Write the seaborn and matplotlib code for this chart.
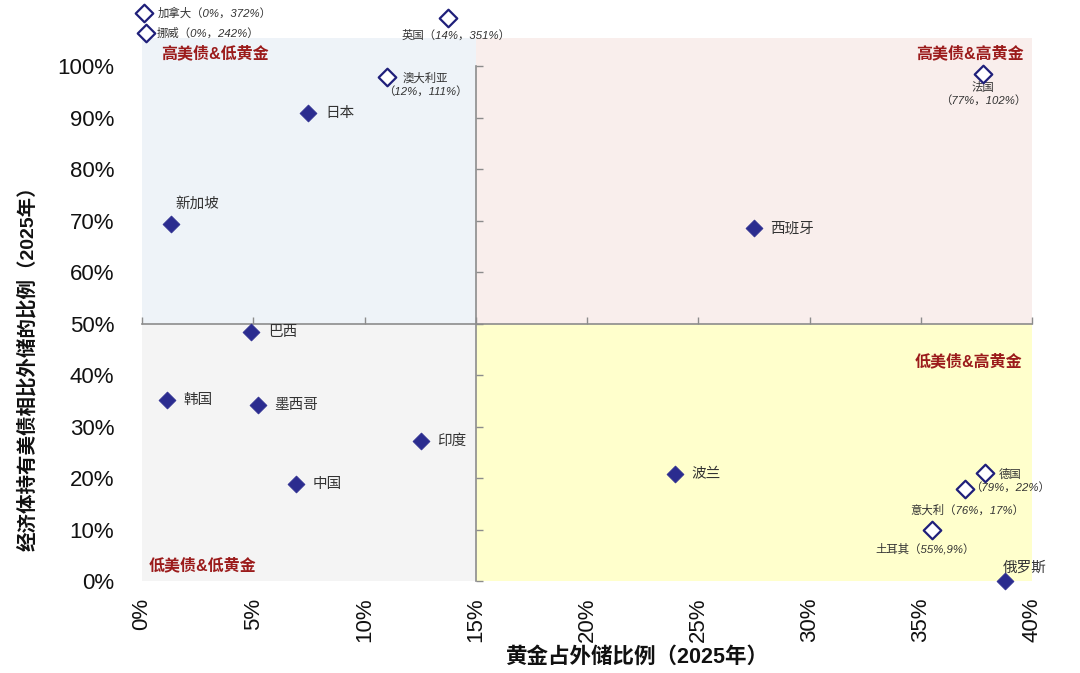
import matplotlib
matplotlib.use("Agg")
import matplotlib.pyplot as plt
import seaborn as sns
import pandas as pd

# 实心点：正常范围内的经济体
filled_names = ['日本', '新加坡', '西班牙', '巴西', '韩国', '墨西哥', '印度', '中国', '波兰', '俄罗斯']
filled_gold = [7.46, 1.30, 27.5, 4.9, 1.12, 5.21, 12.54, 6.9, 23.96, 38.8]
filled_ust = [90.9, 69.3, 68.5, 48.3, 35.1, 34.2, 27.2, 18.8, 20.8, 0.0]

# 空心点：超出坐标范围，标注真实数值
hollow_labels = ['加拿大（0%，372%）', '挪威（0%，242%）', '英国（14%，351%）',
                 '澳大利亚\n（12%，111%）', '法国\n（77%，102%）', '德国\n（79%，22%）',
                 '意大利（76%，17%）', '土耳其（55%,9%）']
hollow_gold = [0.1, 0.2, 13.75, 11.0, 37.8, 37.9, 37.0, 35.5]
hollow_ust = [110.3, 106.4, 109.3, 97.9, 98.6, 21.0, 17.9, 9.9]

x_ticks = [0, 5, 10, 15, 20, 25, 30, 35, 40]
y_ticks = [0, 10, 20, 30, 40, 50, 60, 70, 80, 90, 100]

quadrant_names = ['高美债&低黄金', '高美债&高黄金', '低美债&高黄金', '低美债&低黄金']

# 标签偏移（像素）
filled_offsets = [(17, 0, 'left'), (5, 21, 'left'), (16, 0, 'left'), (17, 0, 'left'),
                  (17, 0, 'left'), (16, 0, 'left'), (16, 0, 'left'), (17, 0, 'left'),
                  (16, 0, 'left'), (-3, 13, 'left')]
hollow_offsets = [(13, 0, 'left'), (10, 0, 'left'), (8, -17, 'center'),
                  (39, -8, 'center'), (0, -21, 'center'), (25, -8, 'center'),
                  (2, -21, 'center'), (-7, -19, 'center')]

X_SPLIT, Y_SPLIT = 15, 50
X_MAX, Y_MAX = 40, 105.5

sns.set_style('white')
plt.rcParams['font.family'] = ['Liberation Sans', 'Noto Sans CJK SC', 'DejaVu Sans']

fig = plt.figure(figsize=(10.8, 6.73), dpi=100)
ax = fig.add_axes([0.1315, 0.1367, 0.8241, 0.8068])
ax.set_xlim(0, X_MAX)
ax.set_ylim(0, Y_MAX)

# 四象限背景
ax.fill_between([0, X_SPLIT], Y_SPLIT, Y_MAX, color='#eef3f8', lw=0, zorder=0)
ax.fill_between([X_SPLIT, X_MAX], Y_SPLIT, Y_MAX, color='#f9eeec', lw=0, zorder=0)
ax.fill_between([0, X_SPLIT], 0, Y_SPLIT, color='#f4f4f4', lw=0, zorder=0)
ax.fill_between([X_SPLIT, X_MAX], 0, Y_SPLIT, color='#ffffcc', lw=0, zorder=0)

for s in ax.spines.values():
    s.set_visible(False)

ax.set_xticks(x_ticks)
ax.set_xticklabels([f'{v}%' for v in x_ticks], rotation=90)
ax.set_yticks(y_ticks)
ax.set_yticklabels([f'{v}%' for v in y_ticks])
ax.tick_params(axis='both', length=0, labelsize=16, colors='#111111')
ax.tick_params(axis='y', pad=20)
ax.tick_params(axis='x', pad=12)

# 十字中轴
sec_x = ax.secondary_xaxis(Y_SPLIT / Y_MAX)
sec_x.set_xticks(x_ticks)
sec_x.set_xticklabels([])
sec_x.tick_params(direction='in', length=5, color='#8c8c8c', width=1)
for s in sec_x.spines.values():
    s.set_color('#8c8c8c')
    s.set_linewidth(1.2)

sec_y = ax.secondary_yaxis(X_SPLIT / X_MAX)
sec_y.set_yticks(y_ticks)
sec_y.set_yticklabels([])
sec_y.tick_params(direction='in', length=5, color='#8c8c8c', width=1)
for s in sec_y.spines.values():
    s.set_color('#8c8c8c')
    s.set_linewidth(1.2)
sec_y.spines['left'].set_bounds(0, 100)

filled_df = pd.DataFrame({'name': filled_names, 'gold': filled_gold, 'ust': filled_ust})
hollow_df = pd.DataFrame({'name': hollow_labels, 'gold': hollow_gold, 'ust': hollow_ust})

sns.scatterplot(data=filled_df, x='gold', y='ust', marker='D', s=75, color='#2b2c8f',
                edgecolor='#2b2c8f', linewidth=0.5, ax=ax, clip_on=False, zorder=4)
sns.scatterplot(data=hollow_df, x='gold', y='ust', marker='D', s=80, color='white',
                edgecolor='#1f1f7a', linewidth=1.6, ax=ax, clip_on=False, zorder=4)

for (_, r), (dx, dy, ha) in zip(filled_df.iterrows(), filled_offsets):
    ax.annotate(r['name'], (r['gold'], r['ust']), xytext=(dx, dy), textcoords='offset pixels',
                ha=ha, va='center', fontsize=10.5, color='#333333', annotation_clip=False)

for (_, r), (dx, dy, ha) in zip(hollow_df.iterrows(), hollow_offsets):
    ax.annotate(r['name'], (r['gold'], r['ust']), xytext=(dx, dy), textcoords='offset pixels',
                ha=ha, va='center', multialignment='center', fontsize=8.2, style='italic',
                color='#333333', linespacing=1.3, annotation_clip=False)

# 象限标签
q_color = '#9b1b1b'
ax.text(0.021, 0.971, quadrant_names[0], transform=ax.transAxes, ha='left', va='center',
        fontsize=11.5, fontweight='bold', color=q_color)
ax.text(0.991, 0.971, quadrant_names[1], transform=ax.transAxes, ha='right', va='center',
        fontsize=11.5, fontweight='bold', color=q_color)
ax.text(0.989, 0.404, quadrant_names[2], transform=ax.transAxes, ha='right', va='center',
        fontsize=11.5, fontweight='bold', color=q_color)
ax.text(0.008, 0.029, quadrant_names[3], transform=ax.transAxes, ha='left', va='center',
        fontsize=11.5, fontweight='bold', color=q_color)

ax.set_xlabel('黄金占外储比例（2025年）', fontsize=15.5, fontweight='bold', color='#111111')
ax.set_ylabel('经济体持有美债相比外储的比例（2025年）', fontsize=14, fontweight='bold', color='#111111')
ax.xaxis.set_label_coords(0.556, -0.122)
ax.yaxis.set_label_coords(-0.118, 0.40)

fig.savefig('out.png', dpi=100)
